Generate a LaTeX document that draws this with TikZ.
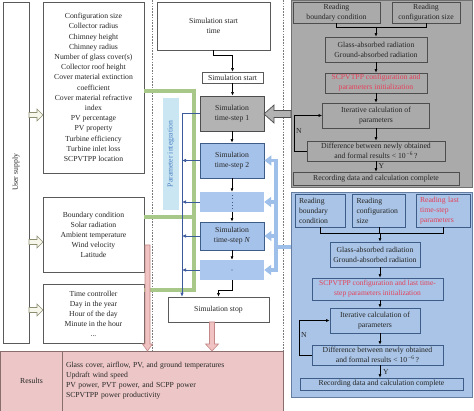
\documentclass[tikz,border=0pt]{standalone}
\usepackage{fontspec}
\setmainfont{Liberation Serif}
\usetikzlibrary{arrows.meta,calc}
\definecolor{cEdge}{HTML}{5A5A5A}
\definecolor{cGrayPanel}{HTML}{AAAAAA}
\definecolor{cGrayEdge}{HTML}{4D4D4D}
\definecolor{cTSgray}{HTML}{B3B3B3}
\definecolor{cBluePanel}{HTML}{A9C4E6}
\definecolor{cBlueEdge}{HTML}{3E5C88}
\definecolor{cTSBlue}{HTML}{A5C2EA}
\definecolor{cDots}{HTML}{ABC7EE}
\definecolor{cGreen}{HTML}{A8C88A}
\definecolor{cThick}{HTML}{9DBFE9}
\definecolor{cThin}{HTML}{3A5A9C}
\definecolor{cPI}{HTML}{C9E6F2}
\definecolor{cPIText}{HTML}{4A7FC4}
\definecolor{cRes}{HTML}{EDC7C7}
\definecolor{cResEdge}{HTML}{8A6E6E}
\definecolor{cPink}{HTML}{F0C2C2}
\definecolor{cPinkEdge}{HTML}{C48888}
\definecolor{cRed}{HTML}{E5405A}
\definecolor{cCream}{HTML}{F6F6EA}
\definecolor{cCreamEdge}{HTML}{8E8E72}
\definecolor{cDash}{HTML}{7A7A7A}
\newcommand\barrowdown[7]{\draw[#1] ({#2-#5},{#3}) -- ({#2-#5},{#4-#7}) -- ({#2-#6},{#4-#7}) -- ({#2},{#4}) -- ({#2+#6},{#4-#7}) -- ({#2+#5},{#4-#7}) -- ({#2+#5},{#3}) -- cycle;}
\newcommand\barrowh[7]{\draw[#1] ({#3},{#2-#5}) -- ({#4-(#7)},{#2-#5}) -- ({#4-(#7)},{#2-#6}) -- ({#4},{#2}) -- ({#4-(#7)},{#2+#6}) -- ({#4-(#7)},{#2+#5}) -- ({#3},{#2+#5}) -- cycle;}
\tikzset{
 txt/.style={font=\fontsize{7.7}{10}\selectfont, text=black!85},
 wbox/.style={txt, draw=cEdge, line width=0.7pt, fill=white, align=center, inner sep=0pt},
 gbox/.style={txt, draw=cGrayEdge, line width=0.7pt, fill=cGrayPanel, align=center, inner sep=0pt},
 bbox/.style={txt, draw=cBlueEdge, line width=0.7pt, fill=cBluePanel, align=center, inner sep=0pt},
 lbox/.style={bbox, align=left, inner xsep=4pt, text width=#1},
 redtxt/.style={text=cRed},
 tsgray/.style={txt, draw=cGrayEdge, line width=0.8pt, fill=cTSgray, align=center, inner sep=0pt, minimum width=64, minimum height=35},
 tsblue/.style={txt, draw=cBlueEdge, line width=0.8pt, fill=cTSBlue, align=center, inner sep=0pt, minimum width=64},
 dotbox/.style={fill=cDots, inner sep=0pt, minimum width=64, minimum height=20},
 graypanel/.style={draw=cGrayEdge!80, line width=0.7pt, fill=cGrayPanel},
 bluepanel/.style={draw=cBlueEdge!80, line width=0.7pt, fill=cBluePanel},
 resbox/.style={txt, draw=cResEdge, line width=0.8pt, fill=cRes, inner sep=0pt},
 pibox/.style={txt, fill=cPI, text=cPIText, inner sep=0pt},
 plain/.style={draw=black, line width=0.6pt},
 arr/.style={plain, -{Latex[length=3.5pt,width=3pt]}},
 dotline/.style={draw=cBlueEdge, line width=0.8pt, dash pattern=on 0.8pt off 2.6pt},
 thin/.style={draw=cThin, line width=0.6pt},
 thinarr/.style={thin, -{Latex[length=4pt,width=3.5pt]}},
 thk/.style={draw=cThick, line width=3.5pt},
 thkarr/.style={thk, -{Triangle[length=7pt,width=10pt]}},
 gr/.style={draw=cGreen, line width=4pt},
 dsh/.style={draw=cDash, line width=0.6pt, dash pattern=on 1.6pt off 1.2pt},
 pinkarrow/.style={draw=cPinkEdge, fill=cPink, line width=0.6pt},
 creamarrow/.style={draw=cCreamEdge, fill=cCream, line width=0.6pt},
 grayarrow/.style={draw=cGrayEdge, fill=cGrayPanel!90!white, line width=0.7pt},
 lbl/.style={txt, inner sep=0pt}
}
\begin{document}
\begin{tikzpicture}[x=1pt,y=-1pt]
\useasboundingbox (0,0) rectangle (474,411);
% panels
\node[graypanel, minimum width=181, minimum height=186.5] (gp) at (381.5,93.75) {};
\node[bluepanel, minimum width=181, minimum height=205] (bp) at (381.5,294.5) {};
% dashed separators
\draw[dsh] (152,0) -- (152,351);
\draw[dsh] (283,0) -- (283,351);
% left column
\node[wbox, minimum width=341, minimum height=26, rotate=90] (usr) at (16,172.5) {User supply};
\node[wbox, minimum width=101, minimum height=171, font=\fontsize{7.7}{10.2}\selectfont] (cfg) at (93.5,87.5) {Configuration size\\Collector radius\\Chimney height\\Chimney radius\\Number of glass cover(s)\\Collector roof height\\Cover material extinction\\coefficient\\Cover material refractive\\index\\PV percentage\\PV property\\Turbine efficiency\\Turbine inlet loss\\SCPVTPP location};
\node[wbox, minimum width=101, minimum height=75] (env) at (93.5,234.5) {Boundary condition\\Solar radiation\\Ambient temperature\\Wind velocity\\Latitude};
\node[wbox, minimum width=101, minimum height=59] (tim) at (93.5,313.5) {Time controller\\Day in the year\\Hour of the day\\Minute in the hour\\...};
\barrowh{creamarrow}{115}{29}{43}{2.5}{6}{6}
\barrowh{creamarrow}{242}{29}{43}{2.5}{6}{6}
\barrowh{creamarrow}{310}{29}{43}{2.5}{6}{6}
% green lines
\coordinate (gA) at (194,91);
\coordinate (gB) at (194,290);
\coordinate (gC) at (194,217);
\draw[gr] (cfg.east |- gA) -- (gA) -- (gB) -- (tim.east |- gB);
\draw[gr] (env.east |- gC) -- (gC);
% middle column
\node[wbox, minimum width=113, minimum height=48] (st) at (213.5,26) {Simulation start\\time};
\node[wbox, minimum width=61, minimum height=11] (ss) at (232.5,77.5) {Simulation start};
\node[tsgray] (ts1) at (232,113.5) {Simulation\\time-step 1};
\node[tsblue, minimum height=35] (ts2) at (232,160.5) {Simulation\\time-step 2};
\node[dotbox] (d1) at (232,202) {};
\node[tsblue, minimum height=28] (tsn) at (232,236) {Simulation\\time-step \textit{N}};
\node[dotbox] (d2) at (232,270) {};
\node[wbox, minimum width=101, minimum height=25] (stop) at (218.5,309.5) {Simulation stop};
\node[pibox, minimum width=112, minimum height=16, rotate=90] (pi) at (171,154) {Parameter integration};
\draw[dotline] ($(d1.north)+(0,3)$) -- (d1.south);
\fill[cBlueEdge] (d2.center) circle (0.6pt);
\draw[arr] (st.south) -- ++(0,5) -| (ss.north);
\draw[arr] (ss.south) -- (ss.south |- ts1.north);
\draw[arr] (ts1.south) -- (ts2.north);
\draw[arr] (ts2.south) -- (d1.north);
\draw[arr] (d1.south) -- (tsn.north);
\draw[arr] (tsn.south) -- (d2.north);
\draw[arr] (d2.south) -- ++(0,10) -| (stop.north);
% thin blue integration lines
\coordinate (vb) at (182,0);
\draw[thinarr] (ts1.west) -- (ts1.west -| vb) -- (vb |- stop.north);
\draw[thinarr] (ts2.west) -- (ts2.west -| vb);
\draw[thinarr] (d1.west) -- (d1.west -| vb);
\draw[thinarr] (tsn.west) -- (tsn.west -| vb);
\draw[thinarr] (d2.west) -- (d2.west -| vb);
% thick blue arrows from blue panel
\coordinate (bv) at (276,0);
\coordinate (bh) at (0,247);
\draw[thk, line cap=rect] (bv |- d2.east) -- (bv |- ts2.east);
\draw[thk] (bv |- bh) -- (bp.west |- bh);
\draw[thkarr] (bv |- ts2.east) -- (ts2.east);
\draw[thkarr] (bv |- d1.east) -- (d1.east);
\draw[thkarr] (bv |- tsn.east) -- (tsn.east);
\draw[thkarr] (bv |- d2.east) -- (d2.east);
% gray arrow from gray panel
\barrowh{grayarrow}{114}{291}{264}{3.5}{9}{-10}
% gray panel contents
\node[gbox, minimum width=87, minimum height=21] (g1) at (336.5,12.5) {Reading\\boundary condition};
\node[gbox, minimum width=68, minimum height=21] (g2) at (426,12.5) {Reading\\configuration size};
\node[gbox, minimum width=102, minimum height=25] (g3) at (376,49.5) {Glass-absorbed radiation\\Ground-absorbed radiation};
\node[gbox, redtxt, minimum width=102, minimum height=20] (g4) at (376,83) {SCPVTPP configuration and\\parameters initialization};
\node[gbox, minimum width=107, minimum height=25] (g5) at (376,115.5) {Iterative calculation of\\parameters};
\node[gbox, minimum width=138, minimum height=20] (g6) at (376,151) {Difference between newly obtained\\and formal results < 10\textsuperscript{\,−6}\,?};
\node[gbox, minimum width=166, minimum height=13] (g7) at (376,178.5) {Recording data and calculation complete};
\coordinate (gm) at (376,27);
\draw[plain] (g1.south) -- ++(0,4) -| (g2.south);
\draw[arr] (gm) -- (gm |- g3.north);
\draw[arr] (g3.south) -- (g4.north);
\draw[arr] (g4.south) -- (g5.north);
\draw[arr] (g5.south) -- (g6.north);
\draw[arr] (g6.south) -- (g7.north);
\draw[arr] (g6.west) -- ++(-12,0) |- (g5.west);
\node[lbl, anchor=west] (gN) at (296,131) {N};
\node[lbl, anchor=west] (gY) at (378.5,165.5) {Y};
% blue panel contents
\node[lbox=42pt, minimum height=33] (b1) at (320,210.5) {Reading\\boundary\\condition};
\node[lbox=45pt, minimum height=33] (b2) at (379,210.5) {Reading\\configuration\\size};
\node[lbox=46pt, redtxt, minimum height=33] (b3) at (443,210.5) {Reading last\\time-step\\parameters};
\node[bbox, minimum width=90, minimum height=25] (b4) at (375,254.5) {Glass-absorbed radiation\\Ground-absorbed radiation};
\node[bbox, redtxt, minimum width=131, minimum height=22, font=\fontsize{7.5}{10}\selectfont] (b5) at (377.5,289) {SCPVTPP configuration and last time-\\step parameters initialization};
\node[bbox, minimum width=90, minimum height=25] (b6) at (375,320.5) {Iterative calculation of\\parameters};
\node[bbox, minimum width=131, minimum height=20] (b7) at (377.5,355) {Difference between newly obtained\\and formal results < 10\textsuperscript{\,−6}\,?};
\node[bbox, minimum width=163, minimum height=12] (b8) at (381.5,384) {Recording data and calculation complete};
\coordinate (bx) at (380,0);
\coordinate (bm) at (380,233);
\draw[plain] (b1.south) -- ++(0,6) -| (b3.south);
\draw[plain] (b2.south) -- (b2.south |- bm);
\draw[arr] (bm) -- (bm |- b4.north);
\draw[arr] (b4.south -| bx) -- (b5.north -| bx);
\draw[arr] (b5.south -| bx) -- (b6.north -| bx);
\draw[arr] (b6.south -| bx) -- (b7.north -| bx);
\draw[arr] (b7.south -| bx) -- (b8.north -| bx);
\draw[arr] (b7.west) -- ++(-12,0) |- (b6.west);
\node[lbl, anchor=west] (bN) at (301,335) {N};
\node[lbl, anchor=west] (bY) at (383,371.5) {Y};
% results
\node[resbox, minimum width=62, minimum height=60] (resL) at (31.5,381) {Results};
\node[resbox, minimum height=60, text width=213pt, inner xsep=4pt, align=left] (resR) at (172.5,381) {Glass cover, airflow, PV, and ground temperatures\\Updraft wind speed\\PV power, PVT power, and SCPP power\\SCPVTPP power productivity};
\barrowdown{pinkarrow}{212}{322}{351}{2.5}{6.5}{7}
\barrowdown{pinkarrow}{147.5}{245}{351}{2.5}{5}{7}
\end{tikzpicture}
\end{document}
